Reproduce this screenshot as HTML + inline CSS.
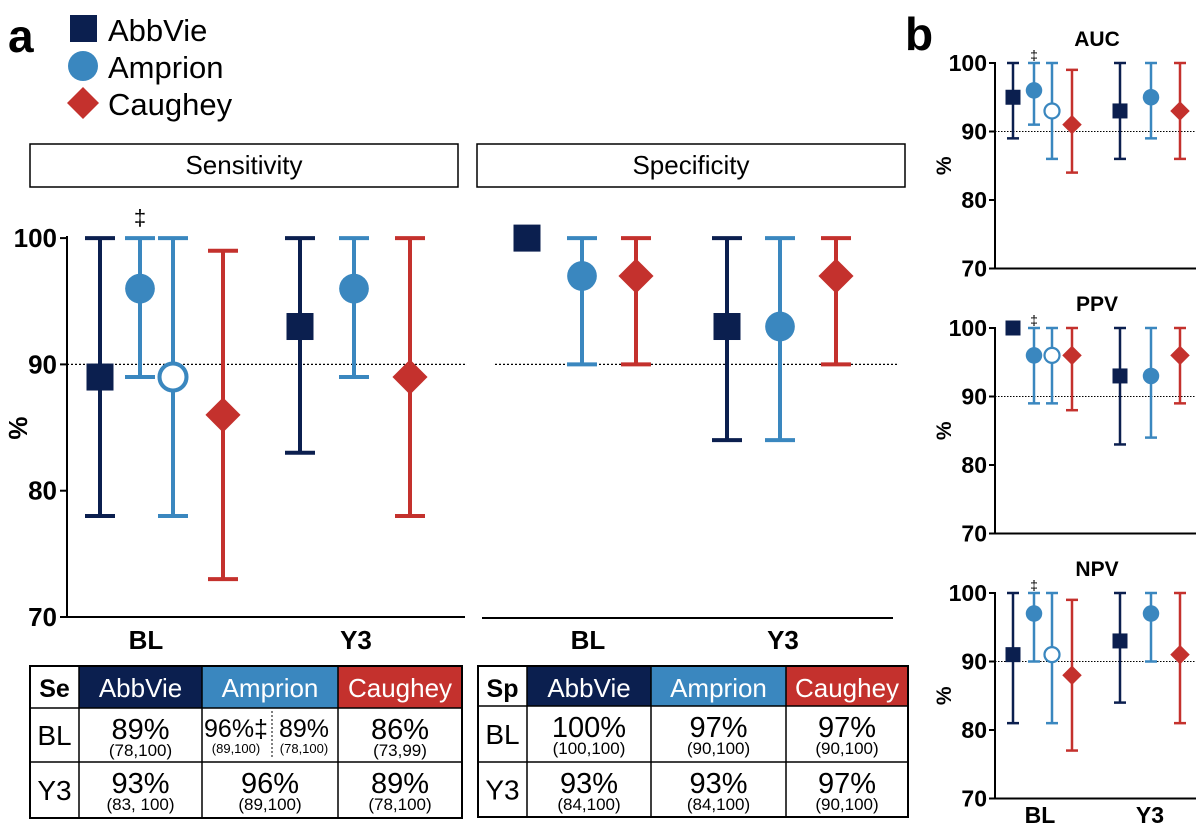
<!DOCTYPE html>
<html><head><meta charset="utf-8"><style>
body{margin:0;background:#fff;font-family:"Liberation Sans",Arial,sans-serif}
svg{display:block}
</style></head><body>
<svg id="s" width="1200" height="833" xmlns="http://www.w3.org/2000/svg" font-family="Liberation Sans, Arial, sans-serif">
<text x="8" y="52" font-size="46" font-weight="bold">a</text>
<text x="905" y="50" font-size="46" font-weight="bold">b</text>
<g>
<g><rect x="70" y="15" width="27" height="27" fill="#0b1f4f"/><text x="108" y="41" font-size="31">AbbVie</text></g>
<g><circle cx="83" cy="66" r="15" fill="#3a87bf"/><text x="108" y="78" font-size="31">Amprion</text></g>
<g><path d="M83 87 L99 103 L83 119 L67 103Z" fill="#c4312d"/><text x="108" y="115" font-size="31">Caughey</text></g>
</g>
<g><rect x="30" y="144" width="428" height="43" fill="#fff" stroke="#000" stroke-width="1.5"/><text x="244" y="174" font-size="26" text-anchor="middle">Sensitivity</text></g>
<g><rect x="477" y="144" width="428" height="43" fill="#fff" stroke="#000" stroke-width="1.5"/><text x="691" y="174" font-size="26" text-anchor="middle">Specificity</text></g>
<g id="charts"></g>
<g id="tables"></g>
</svg>
<script>
const NS="http://www.w3.org/2000/svg";
const C={a:"#0b1f4f",b:"#3a87bf",c:"#c4312d"};
// Panel a data
const seriesKeys=["a","b","bo","c"];
const seVal={BL:[89,96,89,86],Y3:[93,96,null,89]};
const seLo={BL:[78,89,78,73],Y3:[83,89,null,78]};
const seHi={BL:[100,100,100,99],Y3:[100,100,null,100]};
const spVal={BL:[100,97,null,97],Y3:[93,93,null,97]};
const spLo={BL:[100,90,null,90],Y3:[84,84,null,90]};
const spHi={BL:[100,100,null,100],Y3:[100,100,null,100]};
const yTicks=[70,80,90,100];
// Panel b data
const bPanels=["AUC","PPV","NPV"];
const bVal={AUC:{BL:[95,96,93,91],Y3:[93,95,null,93]},PPV:{BL:[100,96,96,96],Y3:[93,93,null,96]},NPV:{BL:[91,97,91,88],Y3:[93,97,null,91]}};
const bLo={AUC:{BL:[89,91,86,84],Y3:[86,89,null,86]},PPV:{BL:[100,89,89,88],Y3:[83,84,null,89]},NPV:{BL:[81,90,81,77],Y3:[84,90,null,81]}};
const bHi={AUC:{BL:[100,100,100,99],Y3:[100,100,null,100]},PPV:{BL:[100,100,100,100],Y3:[100,100,null,100]},NPV:{BL:[100,100,100,99],Y3:[100,100,null,100]}};
const g=document.getElementById("charts");
function el(t,a,p){const e=document.createElementNS(NS,t);for(const k in a)e.setAttribute(k,a[k]);(p||g).appendChild(e);return e;}
function marker(k,x,y,s,p){const col=k=="a"?C.a:k=="c"?C.c:C.b;let m;
 if(k=="a")m=el("rect",{x:x-s,y:y-s,width:2*s,height:2*s,fill:col},p);
 else if(k=="b")m=el("circle",{cx:x,cy:y,r:s*1.1,fill:col},p);
 else if(k=="bo")m=el("circle",{cx:x,cy:y,r:s*1.0,fill:"#fff",stroke:col,"stroke-width":s*0.3},p);
 else m=el("path",{d:`M${x} ${y-s*1.3}L${x+s*1.3} ${y}L${x} ${y+s*1.3}L${x-s*1.3} ${y}Z`,fill:col},p);
 return m;}
function errbar(k,x,lo,hi,cap,w,p){const col=k=="a"?C.a:k=="c"?C.c:C.b;
 el("line",{x1:x,x2:x,y1:lo,y2:hi,stroke:col,"stroke-width":w},p);
 el("line",{x1:x-cap,x2:x+cap,y1:lo,y2:lo,stroke:col,"stroke-width":w},p);
 el("line",{x1:x-cap,x2:x+cap,y1:hi,y2:hi,stroke:col,"stroke-width":w},p);}
function drawGroup(name,val,lo,hi,xs,Y,cap,w,s,p){
 ["BL","Y3"].forEach(gk=>{val[gk].forEach((v,i)=>{if(v==null)return;const x=xs[gk][i];
  const gg=el("g",{},p);
  
  
  if(lo[gk][i]!==hi[gk][i]) errbar(seriesKeys[i],x,Y(lo[gk][i]),Y(hi[gk][i]),cap,w,gg);
  marker(seriesKeys[i],x,Y(v),s,gg);});});}
// Sensitivity
const Ya=v=>617-(v-70)*12.63;
const ax=el("g",{});


el("line",{x1:67,x2:67,y1:236,y2:618,stroke:"#000","stroke-width":2},ax);
el("line",{x1:66,x2:465,y1:617,y2:617,stroke:"#000","stroke-width":2},ax);
yTicks.forEach(t=>{el("line",{x1:60,x2:67,y1:Ya(t),y2:Ya(t),stroke:"#000","stroke-width":2},ax);
 const tx=el("text",{x:57,y:Ya(t)+9,"font-size":26,"font-weight":"bold","text-anchor":"end"},ax);tx.textContent=t;});
const yl=el("text",{x:0,y:0,"font-size":26,"font-weight":"bold","text-anchor":"middle",transform:"translate(27,428) rotate(-90)"},ax);yl.textContent="%";
el("line",{x1:67,x2:465,y1:Ya(90),y2:Ya(90),stroke:"#000","stroke-width":1.2,"stroke-dasharray":"2,2"},ax);
let t1=el("text",{x:146,y:649,"font-size":26,"font-weight":"bold","text-anchor":"middle"},ax);t1.textContent="BL";
let t2=el("text",{x:356,y:649,"font-size":26,"font-weight":"bold","text-anchor":"middle"},ax);t2.textContent="Y3";
let dg=el("text",{x:140,y:225,"font-size":22,"text-anchor":"middle"},ax);dg.textContent="‡";
drawGroup("se",seVal,seLo,seHi,{BL:[100,140,173,223],Y3:[300,354,null,410]},Ya,15,4,13.5,null);
// Specificity
const ax2=el("g",{});


el("line",{x1:482,x2:893,y1:618,y2:618,stroke:"#000","stroke-width":2},ax2);
el("line",{x1:495,x2:897,y1:Ya(90),y2:Ya(90),stroke:"#000","stroke-width":1.2,"stroke-dasharray":"2,2"},ax2);
let t3=el("text",{x:588,y:649,"font-size":26,"font-weight":"bold","text-anchor":"middle"},ax2);t3.textContent="BL";
let t4=el("text",{x:783,y:649,"font-size":26,"font-weight":"bold","text-anchor":"middle"},ax2);t4.textContent="Y3";
drawGroup("sp",spVal,spLo,spHi,{BL:[527,582,null,636],Y3:[727,780,null,836]},Ya,15,4,13.5,null);
// Panel b
const tops=[63,328,593];
bPanels.forEach((pn,pi)=>{const y100=tops[pi];const Y=v=>y100+(100-v)*6.85;
 const p=el("g",{});
 
 
 let tt=el("text",{x:1097,y:y100-17,"font-size":21,"font-weight":"bold","text-anchor":"middle"},p);tt.textContent=pn;
 el("line",{x1:995,x2:995,y1:y100-1,y2:Y(70),stroke:"#000","stroke-width":2},p);
 el("line",{x1:994,x2:1196,y1:Y(70),y2:Y(70),stroke:"#000","stroke-width":2},p);
 yTicks.forEach(t=>{el("line",{x1:989,x2:995,y1:Y(t),y2:Y(t),stroke:"#000","stroke-width":2},p);
  const tx=el("text",{x:987,y:Y(t)+8,"font-size":23,"font-weight":"bold","text-anchor":"end"},p);tx.textContent=t;});
 const l=el("text",{x:0,y:0,"font-size":21,"font-weight":"bold","text-anchor":"middle",transform:`translate(951,${Y(85)}) rotate(-90)`},p);l.textContent="%";
 el("line",{x1:995,x2:1196,y1:Y(90),y2:Y(90),stroke:"#000","stroke-width":1,"stroke-dasharray":"1.5,1.5"},p);
 let d=el("text",{x:1034,y:y100-3,"font-size":14,"text-anchor":"middle"},p);d.textContent="‡";
 if(pi==2){let a1=el("text",{x:1040,y:823,"font-size":23,"font-weight":"bold","text-anchor":"middle"},p);a1.textContent="BL";
  let a2=el("text",{x:1150,y:823,"font-size":23,"font-weight":"bold","text-anchor":"middle"},p);a2.textContent="Y3";}
 drawGroup("b-"+pn.toLowerCase(),bVal[pn],bLo[pn],bHi[pn],{BL:[1013,1034,1052,1072],Y3:[1120,1151,null,1180]},Y,6,2.5,7.5,p);
});
// Tables
const tg=document.getElementById("tables");
function tx(x,y,s,txt,col,b,p){const t=el("text",{x:x,y:y,"font-size":s,"text-anchor":"middle",fill:col||"#000","font-weight":b?"bold":"normal"},p);t.textContent=txt;return t;}
function table(name,x0,cols,rows,lab,cells){
 const p=el("g",{},tg);
 
 
 const hc=[C.a,C.b,C.c],hn=["AbbVie","Amprion","Caughey"];
 for(let i=0;i<3;i++){el("rect",{x:cols[i+1],y:rows[0],width:cols[i+2]-cols[i+1],height:rows[1]-rows[0],fill:hc[i]},p);
  tx((cols[i+1]+cols[i+2])/2,rows[0]+31,26,hn[i],"#fff",false,p);}
 tx((cols[0]+cols[1])/2,rows[0]+31,25,lab,"#000",true,p);
 ["BL","Y3"].forEach((r,ri)=>{const yt=rows[ri+1],yb=rows[ri+2];
  tx((cols[0]+cols[1])/2,(yt+yb)/2+10,28,r,"#000",false,p);
  cells[ri].forEach((c,ci)=>{if(!c)return;const cx=(cols[ci+1]+cols[ci+2])/2;
   if(Array.isArray(c[0])){const w=(cols[ci+2]-cols[ci+1])/2;
    c.forEach((cc,k)=>{const sx=cols[ci+1]+w*k+w/2;tx(sx,yt+29,25,cc[0],"#000",false,p);tx(sx,yt+45,13,cc[1],"#000",false,p);});
    el("line",{x1:cols[ci+1]+w+2,x2:cols[ci+1]+w+2,y1:yt+3,y2:yb-3,stroke:"#000","stroke-width":1,"stroke-dasharray":"2,2"},p);
   }else{tx(cx,yt+31,29,c[0],"#000",false,p);tx(cx,yt+48,17,c[1],"#000",false,p);}});});
 el("rect",{x:cols[0],y:rows[0],width:cols[4]-cols[0],height:rows[3]-rows[0],fill:"none",stroke:"#000","stroke-width":2},p);
 for(let i=1;i<4;i++)el("line",{x1:cols[i],x2:cols[i],y1:rows[0],y2:rows[3],stroke:"#000","stroke-width":1.5},p);
 for(let j=1;j<3;j++)el("line",{x1:cols[0],x2:cols[4],y1:rows[j],y2:rows[j],stroke:"#000","stroke-width":1.5},p);
}
table("sensitivity-table",30,[30,79,202,338,462],[666,708,762,818],"Se",
 [[["89%","(78,100)"],[["96%‡","(89,100)"],["89%","(78,100)"]],["86%","(73,99)"]],
  [["93%","(83, 100)"],["96%","(89,100)"],["89%","(78,100)"]]]);
table("specificity-table",478,[478,527,651,786,908],[666,706,762,817],"Sp",
 [[["100%","(100,100)"],["97%","(90,100)"],["97%","(90,100)"]],
  [["93%","(84,100)"],["93%","(84,100)"],["97%","(90,100)"]]]);
</script>
</body></html>
